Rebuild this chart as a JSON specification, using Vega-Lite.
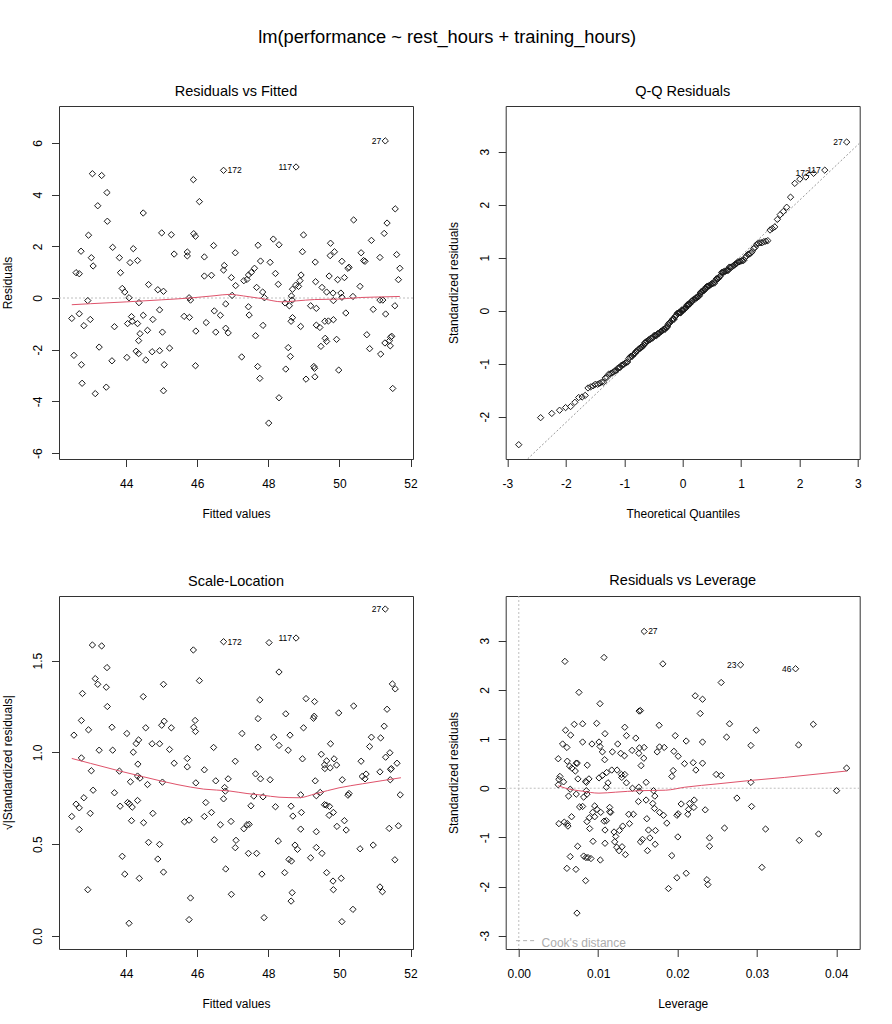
{
  "$schema": "https://vega.github.io/schema/vega-lite/v6.json",
  "background": "white",
  "padding": {"left": 0, "top": 27, "right": 31, "bottom": 18},
  "title": {"text": "lm(performance ~ rest_hours + training_hours)", "fontSize": 18.3, "font": "Liberation Sans", "fontWeight": "normal", "anchor": "middle", "frame": "bounds", "baseline": "alphabetic", "offset": 22, "dx": 16, "color": "#000"},
  "columns": 2,
  "bounds": "flush",
  "spacing": {"row": 137, "column": 92.7},
  "datasets": {
    "rvf": [
      {"fitted":43.05,"resid":4.81},{"fitted":43.31,"resid":4.74},{"fitted":43.46,"resid":4.08},{"fitted":43.20,"resid":3.57},{"fitted":43.47,"resid":2.97},{"fitted":44.48,"resid":3.29},{"fitted":45.89,"resid":4.58},{"fitted":46.06,"resid":3.73},{"fitted":46.74,"resid":4.94,"id":"172"},{"fitted":42.94,"resid":2.43},
      {"fitted":42.73,"resid":1.81},{"fitted":43.02,"resid":1.56},{"fitted":43.07,"resid":1.24},{"fitted":43.62,"resid":1.96},{"fitted":43.81,"resid":1.56},{"fitted":43.84,"resid":0.98},{"fitted":42.59,"resid":0.98},{"fitted":42.68,"resid":0.94},{"fitted":44.11,"resid":1.37},{"fitted":44.20,"resid":1.91},
      {"fitted":44.32,"resid":1.45},{"fitted":45.00,"resid":2.52},{"fitted":45.27,"resid":2.45},{"fitted":45.35,"resid":1.70},{"fitted":45.72,"resid":1.78},{"fitted":45.72,"resid":1.63},{"fitted":45.90,"resid":2.49},{"fitted":45.95,"resid":2.39},{"fitted":46.46,"resid":2.03},{"fitted":46.20,"resid":1.59},
      {"fitted":46.76,"resid":1.26},{"fitted":46.74,"resid":1.08},{"fitted":46.20,"resid":0.85},{"fitted":46.40,"resid":0.88},{"fitted":46.96,"resid":0.79},{"fitted":43.89,"resid":0.37},{"fitted":43.96,"resid":0.23},{"fitted":44.08,"resid":0.01},{"fitted":44.63,"resid":0.52},{"fitted":44.89,"resid":0.32},
      {"fitted":45.05,"resid":0.26},{"fitted":42.92,"resid":-0.10},{"fitted":44.36,"resid":-0.18},{"fitted":45.77,"resid":0.01},{"fitted":45.81,"resid":-0.08},{"fitted":46.98,"resid":0.10},{"fitted":42.47,"resid":-0.79},{"fitted":42.68,"resid":-0.61},{"fitted":42.81,"resid":-1.07},{"fitted":42.99,"resid":-0.83},
      {"fitted":43.67,"resid":-1.11},{"fitted":44.04,"resid":-0.99},{"fitted":44.15,"resid":-0.72},{"fitted":44.17,"resid":-0.90},{"fitted":44.32,"resid":-0.99},{"fitted":44.48,"resid":-0.67},{"fitted":44.39,"resid":-1.38},{"fitted":44.35,"resid":-1.65},{"fitted":44.60,"resid":-1.25},{"fitted":44.75,"resid":-0.83},
      {"fitted":44.94,"resid":-0.46},{"fitted":45.02,"resid":-1.32},{"fitted":45.63,"resid":-0.71},{"fitted":45.78,"resid":-0.75},{"fitted":45.96,"resid":-1.28},{"fitted":46.25,"resid":-0.95},{"fitted":46.48,"resid":-0.50},{"fitted":46.65,"resid":-0.67},{"fitted":46.80,"resid":-0.23},{"fitted":46.52,"resid":-1.32},
      {"fitted":46.80,"resid":-1.17},{"fitted":46.87,"resid":-1.35},{"fitted":43.24,"resid":-1.90},{"fitted":42.53,"resid":-2.22},{"fitted":43.60,"resid":-2.43},{"fitted":44.02,"resid":-2.30},{"fitted":44.28,"resid":-2.06},{"fitted":44.35,"resid":-2.15},{"fitted":44.55,"resid":-2.40},{"fitted":44.73,"resid":-2.08},
      {"fitted":44.94,"resid":-2.04},{"fitted":45.22,"resid":-1.94},{"fitted":45.07,"resid":-2.58},{"fitted":45.95,"resid":-2.62},{"fitted":42.74,"resid":-2.58},{"fitted":42.76,"resid":-3.30},{"fitted":43.13,"resid":-3.70},{"fitted":43.44,"resid":-3.45},{"fitted":45.05,"resid":-3.59},
      {"fitted":51.29,"resid":6.08,"id":"27"},{"fitted":48.78,"resid":5.07,"id":"117"},{"fitted":51.57,"resid":3.45},{"fitted":50.40,"resid":3.02},{"fitted":51.34,"resid":2.90},{"fitted":51.26,"resid":2.50},{"fitted":50.90,"resid":2.23},{"fitted":48.14,"resid":2.28},{"fitted":48.30,"resid":2.06},{"fitted":48.99,"resid":2.44},
      {"fitted":47.71,"resid":2.04},{"fitted":47.07,"resid":1.75},{"fitted":49.75,"resid":2.12},{"fitted":48.96,"resid":1.79},{"fitted":51.61,"resid":1.68},{"fitted":51.14,"resid":1.57},{"fitted":50.61,"resid":1.75},{"fitted":49.74,"resid":1.64},{"fitted":49.86,"resid":1.79},{"fitted":50.07,"resid":1.42},
      {"fitted":50.68,"resid":1.45},{"fitted":50.72,"resid":1.42},{"fitted":47.78,"resid":1.43},{"fitted":48.05,"resid":1.38},{"fitted":49.32,"resid":1.39},{"fitted":50.27,"resid":1.19},{"fitted":50.24,"resid":1.15},{"fitted":51.70,"resid":1.15},{"fitted":47.61,"resid":1.15},{"fitted":47.52,"resid":0.99},
      {"fitted":47.44,"resid":0.89},{"fitted":47.31,"resid":0.67},{"fitted":47.40,"resid":0.72},{"fitted":47.08,"resid":0.48},{"fitted":48.20,"resid":0.95},{"fitted":48.92,"resid":0.89},{"fitted":48.89,"resid":0.67},{"fitted":48.77,"resid":0.50},{"fitted":48.85,"resid":0.45},{"fitted":48.68,"resid":0.34},
      {"fitted":49.33,"resid":0.63},{"fitted":49.71,"resid":0.85},{"fitted":49.95,"resid":0.71},{"fitted":50.14,"resid":0.79},{"fitted":49.51,"resid":0.41},{"fitted":49.64,"resid":0.23},{"fitted":49.82,"resid":0.19},{"fitted":50.04,"resid":0.19},{"fitted":50.58,"resid":0.45},{"fitted":51.66,"resid":0.71},
      {"fitted":47.67,"resid":0.41},{"fitted":47.84,"resid":0.23},{"fitted":48.28,"resid":0.53},{"fitted":47.89,"resid":0.01},{"fitted":50.38,"resid":0.06},{"fitted":50.07,"resid":0.03},{"fitted":48.65,"resid":0.08},{"fitted":48.47,"resid":-0.19},{"fitted":48.59,"resid":-0.30},{"fitted":48.67,"resid":-0.08},
      {"fitted":49.19,"resid":-0.30},{"fitted":49.35,"resid":-0.40},{"fitted":49.83,"resid":-0.10},{"fitted":51.14,"resid":-0.08},{"fitted":51.22,"resid":-0.08},{"fitted":51.56,"resid":-0.30},{"fitted":50.95,"resid":-0.44},{"fitted":51.30,"resid":-0.62},{"fitted":47.44,"resid":-0.34},{"fitted":47.46,"resid":-0.66},
      {"fitted":47.85,"resid":-1.06},{"fitted":47.64,"resid":-1.46},{"fitted":48.68,"resid":-0.76},{"fitted":48.64,"resid":-0.90},{"fitted":48.91,"resid":-1.10},{"fitted":49.35,"resid":-1.05},{"fitted":49.45,"resid":-1.14},{"fitted":49.59,"resid":-0.90},{"fitted":49.69,"resid":-0.89},{"fitted":49.83,"resid":-0.84},
      {"fitted":50.18,"resid":-0.58},{"fitted":49.60,"resid":-1.56},{"fitted":49.64,"resid":-1.68},{"fitted":49.48,"resid":-1.87},{"fitted":49.92,"resid":-1.60},{"fitted":50.77,"resid":-1.42},{"fitted":50.85,"resid":-1.96},{"fitted":51.16,"resid":-2.17},{"fitted":51.28,"resid":-1.74},{"fitted":51.41,"resid":-1.65},
      {"fitted":51.44,"resid":-1.52},{"fitted":51.47,"resid":-1.48},{"fitted":51.43,"resid":-1.85},{"fitted":48.56,"resid":-1.92},{"fitted":48.62,"resid":-2.26},{"fitted":47.70,"resid":-2.65},{"fitted":47.76,"resid":-3.11},{"fitted":48.49,"resid":-2.75},{"fitted":49.06,"resid":-3.14},{"fitted":49.28,"resid":-2.65},
      {"fitted":49.30,"resid":-2.72},{"fitted":49.31,"resid":-3.05},{"fitted":49.98,"resid":-2.79},{"fitted":48.30,"resid":-3.86},{"fitted":51.50,"resid":-3.50},{"fitted":48.01,"resid":-4.84},{"fitted":47.25,"resid":-2.28}
    ],
    "rvf_smooth": [
      {"fitted":42.47,"resid":-0.26},{"fitted":43.0,"resid":-0.22},{"fitted":44.0,"resid":-0.15},{"fitted":45.0,"resid":-0.07},{"fitted":45.8,"resid":0.0},{"fitted":46.5,"resid":0.09},{"fitted":46.9,"resid":0.14},{"fitted":47.3,"resid":0.08},{"fitted":47.8,"resid":-0.02},{"fitted":48.4,"resid":-0.15},{"fitted":48.8,"resid":-0.11},{"fitted":49.3,"resid":-0.06},{"fitted":50.0,"resid":-0.04},{"fitted":50.6,"resid":0.02},{"fitted":51.1,"resid":0.04},{"fitted":51.7,"resid":0.06}
    ],
    "qq": [
      {"theoretical":-2.807,"std_resid":-2.53},{"theoretical":-2.432,"std_resid":-2.02},{"theoretical":-2.241,"std_resid":-1.94},{"theoretical":-2.108,"std_resid":-1.88},{"theoretical":-2.005,"std_resid":-1.83},{"theoretical":-1.919,"std_resid":-1.81},{"theoretical":-1.846,"std_resid":-1.73},{"theoretical":-1.780,"std_resid":-1.64},{"theoretical":-1.722,"std_resid":-1.63},{"theoretical":-1.669,"std_resid":-1.60},
      {"theoretical":-1.621,"std_resid":-1.46},{"theoretical":-1.576,"std_resid":-1.44},{"theoretical":-1.534,"std_resid":-1.42},{"theoretical":-1.495,"std_resid":-1.39},{"theoretical":-1.457,"std_resid":-1.39},{"theoretical":-1.422,"std_resid":-1.37},{"theoretical":-1.388,"std_resid":-1.35},{"theoretical":-1.356,"std_resid":-1.35},{"theoretical":-1.326,"std_resid":-1.27},{"theoretical":-1.296,"std_resid":-1.26},
      {"theoretical":-1.268,"std_resid":-1.20},{"theoretical":-1.240,"std_resid":-1.19},{"theoretical":-1.213,"std_resid":-1.18},{"theoretical":-1.188,"std_resid":-1.16},{"theoretical":-1.163,"std_resid":-1.14},{"theoretical":-1.138,"std_resid":-1.13},{"theoretical":-1.115,"std_resid":-1.09},{"theoretical":-1.092,"std_resid":-1.08},{"theoretical":-1.069,"std_resid":-1.07},{"theoretical":-1.047,"std_resid":-1.03},
      {"theoretical":-1.026,"std_resid":-1.02},{"theoretical":-1.005,"std_resid":-1.01},{"theoretical":-0.984,"std_resid":-0.99},{"theoretical":-0.964,"std_resid":-0.98},{"theoretical":-0.944,"std_resid":-0.97},{"theoretical":-0.925,"std_resid":-0.91},{"theoretical":-0.906,"std_resid":-0.88},{"theoretical":-0.887,"std_resid":-0.86},{"theoretical":-0.868,"std_resid":-0.86},{"theoretical":-0.850,"std_resid":-0.84},
      {"theoretical":-0.833,"std_resid":-0.82},{"theoretical":-0.815,"std_resid":-0.80},{"theoretical":-0.798,"std_resid":-0.77},{"theoretical":-0.781,"std_resid":-0.76},{"theoretical":-0.764,"std_resid":-0.74},{"theoretical":-0.747,"std_resid":-0.72},{"theoretical":-0.731,"std_resid":-0.71},{"theoretical":-0.714,"std_resid":-0.69},{"theoretical":-0.698,"std_resid":-0.69},{"theoretical":-0.682,"std_resid":-0.67},
      {"theoretical":-0.667,"std_resid":-0.65},{"theoretical":-0.651,"std_resid":-0.61},{"theoretical":-0.636,"std_resid":-0.60},{"theoretical":-0.620,"std_resid":-0.58},{"theoretical":-0.605,"std_resid":-0.58},{"theoretical":-0.590,"std_resid":-0.56},{"theoretical":-0.576,"std_resid":-0.55},{"theoretical":-0.561,"std_resid":-0.55},{"theoretical":-0.546,"std_resid":-0.52},{"theoretical":-0.518,"std_resid":-0.52},
      {"theoretical":-0.503,"std_resid":-0.50},{"theoretical":-0.489,"std_resid":-0.47},{"theoretical":-0.475,"std_resid":-0.47},{"theoretical":-0.461,"std_resid":-0.47},{"theoretical":-0.447,"std_resid":-0.47},{"theoretical":-0.433,"std_resid":-0.44},{"theoretical":-0.420,"std_resid":-0.43},{"theoretical":-0.406,"std_resid":-0.43},{"theoretical":-0.392,"std_resid":-0.41},{"theoretical":-0.379,"std_resid":-0.40},
      {"theoretical":-0.366,"std_resid":-0.39},{"theoretical":-0.352,"std_resid":-0.38},{"theoretical":-0.339,"std_resid":-0.37},{"theoretical":-0.326,"std_resid":-0.35},{"theoretical":-0.312,"std_resid":-0.35},{"theoretical":-0.299,"std_resid":-0.35},{"theoretical":-0.286,"std_resid":-0.32},{"theoretical":-0.273,"std_resid":-0.32},{"theoretical":-0.260,"std_resid":-0.30},{"theoretical":-0.248,"std_resid":-0.26},
      {"theoretical":-0.235,"std_resid":-0.24},{"theoretical":-0.222,"std_resid":-0.23},{"theoretical":-0.209,"std_resid":-0.21},{"theoretical":-0.184,"std_resid":-0.18},{"theoretical":-0.171,"std_resid":-0.16},{"theoretical":-0.158,"std_resid":-0.16},{"theoretical":-0.145,"std_resid":-0.16},{"theoretical":-0.133,"std_resid":-0.12},{"theoretical":-0.120,"std_resid":-0.10},{"theoretical":-0.107,"std_resid":-0.09},
      {"theoretical":-0.094,"std_resid":-0.05},{"theoretical":-0.082,"std_resid":-0.05},{"theoretical":-0.069,"std_resid":-0.04},{"theoretical":-0.056,"std_resid":-0.04},{"theoretical":-0.044,"std_resid":-0.04},{"theoretical":-0.031,"std_resid":-0.04},{"theoretical":-0.019,"std_resid":0.01},{"theoretical":-0.006,"std_resid":0.01},{"theoretical":0.006,"std_resid":0.01},{"theoretical":0.019,"std_resid":0.02},
      {"theoretical":0.031,"std_resid":0.03},{"theoretical":0.044,"std_resid":0.04},{"theoretical":0.056,"std_resid":0.05},{"theoretical":0.069,"std_resid":0.10},{"theoretical":0.082,"std_resid":0.10},{"theoretical":0.094,"std_resid":0.12},{"theoretical":0.107,"std_resid":0.12},{"theoretical":0.120,"std_resid":0.12},{"theoretical":0.133,"std_resid":0.14},{"theoretical":0.145,"std_resid":0.17},
      {"theoretical":0.158,"std_resid":0.18},{"theoretical":0.171,"std_resid":0.19},{"theoretical":0.184,"std_resid":0.21},{"theoretical":0.209,"std_resid":0.21},{"theoretical":0.222,"std_resid":0.24},{"theoretical":0.235,"std_resid":0.24},{"theoretical":0.248,"std_resid":0.25},{"theoretical":0.260,"std_resid":0.26},{"theoretical":0.273,"std_resid":0.27},{"theoretical":0.286,"std_resid":0.28},
      {"theoretical":0.299,"std_resid":0.33},{"theoretical":0.312,"std_resid":0.35},{"theoretical":0.326,"std_resid":0.35},{"theoretical":0.339,"std_resid":0.37},{"theoretical":0.352,"std_resid":0.37},{"theoretical":0.366,"std_resid":0.38},{"theoretical":0.379,"std_resid":0.41},{"theoretical":0.392,"std_resid":0.41},{"theoretical":0.406,"std_resid":0.45},{"theoretical":0.420,"std_resid":0.45},
      {"theoretical":0.433,"std_resid":0.46},{"theoretical":0.447,"std_resid":0.47},{"theoretical":0.461,"std_resid":0.47},{"theoretical":0.475,"std_resid":0.49},{"theoretical":0.489,"std_resid":0.50},{"theoretical":0.503,"std_resid":0.51},{"theoretical":0.518,"std_resid":0.51},{"theoretical":0.546,"std_resid":0.52},{"theoretical":0.561,"std_resid":0.57},{"theoretical":0.576,"std_resid":0.60},
      {"theoretical":0.590,"std_resid":0.60},{"theoretical":0.605,"std_resid":0.60},{"theoretical":0.620,"std_resid":0.62},{"theoretical":0.636,"std_resid":0.65},{"theoretical":0.651,"std_resid":0.66},{"theoretical":0.667,"std_resid":0.72},{"theoretical":0.682,"std_resid":0.72},{"theoretical":0.698,"std_resid":0.73},{"theoretical":0.714,"std_resid":0.74},{"theoretical":0.731,"std_resid":0.74},
      {"theoretical":0.747,"std_resid":0.75},{"theoretical":0.764,"std_resid":0.76},{"theoretical":0.781,"std_resid":0.76},{"theoretical":0.798,"std_resid":0.82},{"theoretical":0.815,"std_resid":0.82},{"theoretical":0.833,"std_resid":0.82},{"theoretical":0.850,"std_resid":0.83},{"theoretical":0.868,"std_resid":0.85},{"theoretical":0.887,"std_resid":0.86},{"theoretical":0.906,"std_resid":0.88},
      {"theoretical":0.925,"std_resid":0.89},{"theoretical":0.944,"std_resid":0.92},{"theoretical":0.964,"std_resid":0.92},{"theoretical":0.984,"std_resid":0.93},{"theoretical":1.005,"std_resid":0.94},{"theoretical":1.026,"std_resid":0.94},{"theoretical":1.047,"std_resid":0.95},{"theoretical":1.069,"std_resid":1.00},{"theoretical":1.092,"std_resid":1.03},{"theoretical":1.115,"std_resid":1.06},
      {"theoretical":1.138,"std_resid":1.07},{"theoretical":1.163,"std_resid":1.08},{"theoretical":1.188,"std_resid":1.11},{"theoretical":1.213,"std_resid":1.17},{"theoretical":1.240,"std_resid":1.19},{"theoretical":1.268,"std_resid":1.25},{"theoretical":1.296,"std_resid":1.27},{"theoretical":1.326,"std_resid":1.28},{"theoretical":1.356,"std_resid":1.28},{"theoretical":1.388,"std_resid":1.30},
      {"theoretical":1.422,"std_resid":1.31},{"theoretical":1.457,"std_resid":1.32},{"theoretical":1.495,"std_resid":1.52},{"theoretical":1.534,"std_resid":1.55},{"theoretical":1.576,"std_resid":1.58},{"theoretical":1.621,"std_resid":1.72},{"theoretical":1.669,"std_resid":1.81},{"theoretical":1.722,"std_resid":1.87},{"theoretical":1.780,"std_resid":1.95},{"theoretical":1.846,"std_resid":2.14},
      {"theoretical":1.919,"std_resid":2.40},{"theoretical":2.005,"std_resid":2.48},{"theoretical":2.108,"std_resid":2.52},{"theoretical":2.241,"std_resid":2.59,"id":"172"},{"theoretical":2.432,"std_resid":2.65,"id":"117"},{"theoretical":2.807,"std_resid":3.18,"id":"27"}
    ],
    "qq_line": [
      {"theoretical":-3.2,"std_resid":-3.37},{"theoretical":3.2,"std_resid":3.34}
    ],
    "sl": [
      {"fitted":43.05,"sqrt_std":1.585},{"fitted":43.31,"sqrt_std":1.580},{"fitted":46.74,"sqrt_std":1.603,"id":"172"},{"fitted":45.89,"sqrt_std":1.558},{"fitted":43.46,"sqrt_std":1.462},{"fitted":43.13,"sqrt_std":1.402},{"fitted":43.20,"sqrt_std":1.371},{"fitted":43.44,"sqrt_std":1.355},{"fitted":46.06,"sqrt_std":1.391},{"fitted":45.05,"sqrt_std":1.371},
      {"fitted":42.77,"sqrt_std":1.321},{"fitted":44.48,"sqrt_std":1.304},{"fitted":43.47,"sqrt_std":1.250},{"fitted":42.74,"sqrt_std":1.174},{"fitted":42.94,"sqrt_std":1.123},{"fitted":42.53,"sqrt_std":1.094},{"fitted":43.60,"sqrt_std":1.137},{"fitted":44.02,"sqrt_std":1.103},{"fitted":44.55,"sqrt_std":1.134},{"fitted":45.00,"sqrt_std":1.148},
      {"fitted":45.07,"sqrt_std":1.170},{"fitted":45.27,"sqrt_std":1.134},{"fitted":45.94,"sqrt_std":1.174},{"fitted":45.90,"sqrt_std":1.137},{"fitted":45.95,"sqrt_std":1.114},{"fitted":44.35,"sqrt_std":1.068},{"fitted":44.28,"sqrt_std":1.048},{"fitted":44.73,"sqrt_std":1.047},{"fitted":44.94,"sqrt_std":1.047},{"fitted":45.22,"sqrt_std":1.016},
      {"fitted":43.24,"sqrt_std":1.012},{"fitted":43.62,"sqrt_std":1.012},{"fitted":44.20,"sqrt_std":1.001},{"fitted":46.46,"sqrt_std":1.027},{"fitted":42.74,"sqrt_std":0.970},{"fitted":45.72,"sqrt_std":0.967},{"fitted":45.35,"sqrt_std":0.941},{"fitted":44.33,"sqrt_std":0.936},{"fitted":45.72,"sqrt_std":0.921},{"fitted":46.20,"sqrt_std":0.905},
      {"fitted":43.02,"sqrt_std":0.900},{"fitted":43.81,"sqrt_std":0.898},{"fitted":44.32,"sqrt_std":0.871},{"fitted":44.39,"sqrt_std":0.860},{"fitted":44.12,"sqrt_std":0.840},{"fitted":44.60,"sqrt_std":0.825},{"fitted":45.02,"sqrt_std":0.838},{"fitted":45.96,"sqrt_std":0.834},{"fitted":46.52,"sqrt_std":0.845},{"fitted":46.87,"sqrt_std":0.856},
      {"fitted":43.07,"sqrt_std":0.794},{"fitted":43.67,"sqrt_std":0.780},{"fitted":46.77,"sqrt_std":0.809},{"fitted":46.79,"sqrt_std":0.789},{"fitted":46.74,"sqrt_std":0.747},{"fitted":42.81,"sqrt_std":0.753},{"fitted":42.59,"sqrt_std":0.718},{"fitted":42.68,"sqrt_std":0.698},{"fitted":42.47,"sqrt_std":0.651},{"fitted":42.99,"sqrt_std":0.668},
      {"fitted":43.83,"sqrt_std":0.707},{"fitted":44.04,"sqrt_std":0.727},{"fitted":44.09,"sqrt_std":0.720},{"fitted":44.17,"sqrt_std":0.702},{"fitted":44.32,"sqrt_std":0.738},{"fitted":42.68,"sqrt_std":0.580},{"fitted":44.15,"sqrt_std":0.628},{"fitted":44.49,"sqrt_std":0.617},{"fitted":44.75,"sqrt_std":0.668},{"fitted":46.24,"sqrt_std":0.727},
      {"fitted":46.20,"sqrt_std":0.651},{"fitted":46.40,"sqrt_std":0.673},{"fitted":46.65,"sqrt_std":0.606},{"fitted":45.64,"sqrt_std":0.622},{"fitted":45.77,"sqrt_std":0.631},{"fitted":46.95,"sqrt_std":0.624},{"fitted":46.48,"sqrt_std":0.524},{"fitted":44.63,"sqrt_std":0.510},{"fitted":44.94,"sqrt_std":0.499},{"fitted":43.89,"sqrt_std":0.434},
      {"fitted":44.89,"sqrt_std":0.419},{"fitted":43.96,"sqrt_std":0.337},{"fitted":45.05,"sqrt_std":0.348},{"fitted":44.37,"sqrt_std":0.314},{"fitted":46.80,"sqrt_std":0.365},{"fitted":42.92,"sqrt_std":0.252},{"fitted":46.96,"sqrt_std":0.227},{"fitted":45.81,"sqrt_std":0.207},{"fitted":44.08,"sqrt_std":0.069},{"fitted":45.77,"sqrt_std":0.089},
      {"fitted":51.29,"sqrt_std":1.781,"id":"27"},{"fitted":48.78,"sqrt_std":1.623,"id":"117"},{"fitted":48.02,"sqrt_std":1.598},{"fitted":48.30,"sqrt_std":1.438},{"fitted":51.49,"sqrt_std":1.373},{"fitted":51.57,"sqrt_std":1.346},{"fitted":47.76,"sqrt_std":1.286},{"fitted":49.06,"sqrt_std":1.293},{"fitted":49.30,"sqrt_std":1.277},{"fitted":50.40,"sqrt_std":1.253},
      {"fitted":51.34,"sqrt_std":1.235},{"fitted":48.49,"sqrt_std":1.210},{"fitted":47.71,"sqrt_std":1.184},{"fitted":49.29,"sqrt_std":1.197},{"fitted":49.27,"sqrt_std":1.186},{"fitted":49.98,"sqrt_std":1.215},{"fitted":51.26,"sqrt_std":1.143},{"fitted":48.99,"sqrt_std":1.134},{"fitted":47.26,"sqrt_std":1.103},{"fitted":48.15,"sqrt_std":1.083},
      {"fitted":48.61,"sqrt_std":1.094},{"fitted":50.90,"sqrt_std":1.083},{"fitted":51.16,"sqrt_std":1.079},{"fitted":48.30,"sqrt_std":1.038},{"fitted":48.56,"sqrt_std":1.012},{"fitted":47.71,"sqrt_std":1.028},{"fitted":49.75,"sqrt_std":1.047},{"fitted":50.85,"sqrt_std":1.032},{"fitted":49.49,"sqrt_std":0.990},{"fitted":48.96,"sqrt_std":0.965},
      {"fitted":47.07,"sqrt_std":0.952},{"fitted":49.64,"sqrt_std":0.954},{"fitted":49.85,"sqrt_std":0.965},{"fitted":50.61,"sqrt_std":0.952},{"fitted":51.42,"sqrt_std":0.998},{"fitted":51.30,"sqrt_std":0.974},{"fitted":51.62,"sqrt_std":0.941},{"fitted":49.59,"sqrt_std":0.912},{"fitted":49.74,"sqrt_std":0.916},{"fitted":49.92,"sqrt_std":0.931},
      {"fitted":49.58,"sqrt_std":0.932},{"fitted":51.44,"sqrt_std":0.907},{"fitted":51.46,"sqrt_std":0.912},{"fitted":47.64,"sqrt_std":0.883},{"fitted":47.78,"sqrt_std":0.856},{"fitted":48.05,"sqrt_std":0.851},{"fitted":49.32,"sqrt_std":0.845},{"fitted":50.08,"sqrt_std":0.851},{"fitted":50.64,"sqrt_std":0.869},{"fitted":50.72,"sqrt_std":0.856},
      {"fitted":50.75,"sqrt_std":0.882},{"fitted":51.14,"sqrt_std":0.894},{"fitted":51.43,"sqrt_std":0.851},{"fitted":51.71,"sqrt_std":0.769},{"fitted":47.59,"sqrt_std":0.762},{"fitted":47.85,"sqrt_std":0.758},{"fitted":48.91,"sqrt_std":0.769},{"fitted":49.35,"sqrt_std":0.764},{"fitted":49.46,"sqrt_std":0.782},{"fitted":50.24,"sqrt_std":0.767},
      {"fitted":50.27,"sqrt_std":0.776},{"fitted":47.51,"sqrt_std":0.709},{"fitted":48.20,"sqrt_std":0.704},{"fitted":48.64,"sqrt_std":0.707},{"fitted":48.69,"sqrt_std":0.653},{"fitted":48.93,"sqrt_std":0.673},{"fitted":49.58,"sqrt_std":0.715},{"fitted":49.63,"sqrt_std":0.713},{"fitted":49.72,"sqrt_std":0.706},{"fitted":49.71,"sqrt_std":0.657},
      {"fitted":49.83,"sqrt_std":0.673},{"fitted":47.31,"sqrt_std":0.584},{"fitted":47.40,"sqrt_std":0.606},{"fitted":47.46,"sqrt_std":0.608},{"fitted":48.91,"sqrt_std":0.582},{"fitted":49.35,"sqrt_std":0.568},{"fitted":49.93,"sqrt_std":0.597},{"fitted":50.14,"sqrt_std":0.628},{"fitted":50.19,"sqrt_std":0.577},{"fitted":51.40,"sqrt_std":0.586},
      {"fitted":51.66,"sqrt_std":0.600},{"fitted":47.09,"sqrt_std":0.521},{"fitted":47.07,"sqrt_std":0.481},{"fitted":47.44,"sqrt_std":0.450},{"fitted":47.67,"sqrt_std":0.450},{"fitted":48.28,"sqrt_std":0.517},{"fitted":48.75,"sqrt_std":0.495},{"fitted":48.82,"sqrt_std":0.472},{"fitted":49.19,"sqrt_std":0.426},{"fitted":49.35,"sqrt_std":0.482},
      {"fitted":49.51,"sqrt_std":0.450},{"fitted":48.58,"sqrt_std":0.417},{"fitted":48.65,"sqrt_std":0.408},{"fitted":50.58,"sqrt_std":0.475},{"fitted":50.95,"sqrt_std":0.495},{"fitted":51.56,"sqrt_std":0.415},{"fitted":47.82,"sqrt_std":0.337},{"fitted":48.46,"sqrt_std":0.345},{"fitted":49.64,"sqrt_std":0.345},{"fitted":49.82,"sqrt_std":0.299},
      {"fitted":50.05,"sqrt_std":0.314},{"fitted":49.83,"sqrt_std":0.252},{"fitted":51.14,"sqrt_std":0.267},{"fitted":51.21,"sqrt_std":0.241},{"fitted":48.67,"sqrt_std":0.236},{"fitted":48.64,"sqrt_std":0.190},{"fitted":47.88,"sqrt_std":0.100},{"fitted":50.38,"sqrt_std":0.145},{"fitted":50.07,"sqrt_std":0.078}
    ],
    "sl_smooth": [
      {"fitted":42.47,"sqrt_std":0.967},{"fitted":43.0,"sqrt_std":0.94},{"fitted":43.83,"sqrt_std":0.898},{"fitted":44.49,"sqrt_std":0.867},{"fitted":45.43,"sqrt_std":0.825},{"fitted":46.18,"sqrt_std":0.80},{"fitted":46.9,"sqrt_std":0.79},{"fitted":47.4,"sqrt_std":0.776},{"fitted":47.83,"sqrt_std":0.767},{"fitted":48.3,"sqrt_std":0.756},{"fitted":48.86,"sqrt_std":0.753},{"fitted":49.33,"sqrt_std":0.775},{"fitted":49.99,"sqrt_std":0.807},{"fitted":50.65,"sqrt_std":0.829},{"fitted":51.2,"sqrt_std":0.846},{"fitted":51.73,"sqrt_std":0.862}
    ],
    "rvl": [
      {"leverage":0.01579,"std_resid":3.19,"id":"27"},{"leverage":0.00581,"std_resid":2.58},{"leverage":0.01074,"std_resid":2.66},{"leverage":0.01815,"std_resid":2.53},{"leverage":0.00758,"std_resid":1.95},{"leverage":0.01023,"std_resid":1.72},{"leverage":0.01516,"std_resid":1.57},{"leverage":0.01533,"std_resid":1.58},{"leverage":0.00589,"std_resid":1.18},{"leverage":0.00699,"std_resid":1.30},
      {"leverage":0.00653,"std_resid":1.08},{"leverage":0.00804,"std_resid":1.31},{"leverage":0.00981,"std_resid":1.32},{"leverage":0.01335,"std_resid":1.24},{"leverage":0.01086,"std_resid":1.11},{"leverage":0.01356,"std_resid":1.07},{"leverage":0.01768,"std_resid":1.28},{"leverage":0.01971,"std_resid":1.07},{"leverage":0.00552,"std_resid":0.90},{"leverage":0.00606,"std_resid":0.83},
      {"leverage":0.00804,"std_resid":0.94},{"leverage":0.00922,"std_resid":0.90},{"leverage":0.01011,"std_resid":0.94},{"leverage":0.01023,"std_resid":0.85},{"leverage":0.01246,"std_resid":0.90},{"leverage":0.01474,"std_resid":1.02},{"leverage":0.01427,"std_resid":0.77},{"leverage":0.01520,"std_resid":0.82},{"leverage":0.01579,"std_resid":0.83},{"leverage":0.01512,"std_resid":0.71},
      {"leverage":0.01743,"std_resid":0.74},{"leverage":0.01773,"std_resid":0.84},{"leverage":0.01832,"std_resid":0.83},{"leverage":0.01954,"std_resid":0.75},{"leverage":0.02008,"std_resid":0.65},{"leverage":0.01053,"std_resid":0.74},{"leverage":0.01179,"std_resid":0.74},{"leverage":0.01284,"std_resid":0.71},{"leverage":0.01331,"std_resid":0.66},{"leverage":0.01082,"std_resid":0.58},
      {"leverage":0.01575,"std_resid":0.61},{"leverage":0.01541,"std_resid":0.46},{"leverage":0.00497,"std_resid":0.60},{"leverage":0.00611,"std_resid":0.55},{"leverage":0.00640,"std_resid":0.45},{"leverage":0.00669,"std_resid":0.41},{"leverage":0.00712,"std_resid":0.35},{"leverage":0.00724,"std_resid":0.51},{"leverage":0.00737,"std_resid":0.51},{"leverage":0.00863,"std_resid":0.47},
      {"leverage":0.00745,"std_resid":0.19},{"leverage":0.00842,"std_resid":0.14},{"leverage":0.00851,"std_resid":0.12},{"leverage":0.00884,"std_resid":0.19},{"leverage":0.00518,"std_resid":0.24},{"leverage":0.00505,"std_resid":0.18},{"leverage":0.00497,"std_resid":0.07},{"leverage":0.00564,"std_resid":0.13},{"leverage":0.01011,"std_resid":0.21},{"leverage":0.01053,"std_resid":0.26},
      {"leverage":0.01107,"std_resid":0.32},{"leverage":0.01171,"std_resid":0.37},{"leverage":0.01238,"std_resid":0.37},{"leverage":0.01293,"std_resid":0.28},{"leverage":0.01335,"std_resid":0.28},{"leverage":0.01297,"std_resid":0.22},{"leverage":0.01356,"std_resid":0.11},{"leverage":0.01124,"std_resid":0.11},{"leverage":0.01103,"std_resid":0.02},{"leverage":0.00648,"std_resid":-0.02},
      {"leverage":0.00627,"std_resid":-0.16},{"leverage":0.00724,"std_resid":-0.12},{"leverage":0.00851,"std_resid":-0.05},{"leverage":0.00859,"std_resid":-0.12},{"leverage":0.00817,"std_resid":-0.18},{"leverage":0.01432,"std_resid":0.00},{"leverage":0.01512,"std_resid":0.02},{"leverage":0.01520,"std_resid":-0.06},{"leverage":0.01507,"std_resid":-0.27},{"leverage":0.01604,"std_resid":0.12},
      {"leverage":0.01604,"std_resid":-0.24},{"leverage":0.01697,"std_resid":-0.05},{"leverage":0.01714,"std_resid":-0.16},{"leverage":0.01928,"std_resid":0.24},{"leverage":0.01945,"std_resid":0.36},{"leverage":0.00766,"std_resid":-0.38},{"leverage":0.00804,"std_resid":-0.37},{"leverage":0.00956,"std_resid":-0.36},{"leverage":0.00985,"std_resid":-0.43},{"leverage":0.00931,"std_resid":-0.49},
      {"leverage":0.00956,"std_resid":-0.58},{"leverage":0.00888,"std_resid":-0.60},{"leverage":0.00859,"std_resid":-0.68},{"leverage":0.01032,"std_resid":-0.49},{"leverage":0.01145,"std_resid":-0.39},{"leverage":0.01145,"std_resid":-0.48},{"leverage":0.01158,"std_resid":-0.49},{"leverage":0.01074,"std_resid":-0.67},{"leverage":0.00893,"std_resid":-0.82},{"leverage":0.00665,"std_resid":-0.58},
      {"leverage":0.00505,"std_resid":-0.72},{"leverage":0.00573,"std_resid":-0.69},{"leverage":0.00611,"std_resid":-0.72},{"leverage":0.00619,"std_resid":-0.77},{"leverage":0.01688,"std_resid":-0.31},{"leverage":0.01709,"std_resid":-0.41},{"leverage":0.01773,"std_resid":-0.49},{"leverage":0.01823,"std_resid":-0.55},{"leverage":0.01613,"std_resid":-0.62},{"leverage":0.01385,"std_resid":-0.53},
      {"leverage":0.01444,"std_resid":-0.53},{"leverage":0.01394,"std_resid":-0.72},{"leverage":0.01200,"std_resid":-0.89},{"leverage":0.01221,"std_resid":-0.98},{"leverage":0.01267,"std_resid":-0.86},{"leverage":0.01309,"std_resid":-0.77},{"leverage":0.01086,"std_resid":-0.85},{"leverage":0.01103,"std_resid":-0.66},{"leverage":0.01634,"std_resid":-0.85},{"leverage":0.01722,"std_resid":-0.86},
      {"leverage":0.01865,"std_resid":-0.71},{"leverage":0.01992,"std_resid":-0.55},{"leverage":0.02008,"std_resid":-0.52},{"leverage":0.02046,"std_resid":-0.32},{"leverage":0.00935,"std_resid":-1.08},{"leverage":0.01086,"std_resid":-1.12},{"leverage":0.01208,"std_resid":-1.09},{"leverage":0.01234,"std_resid":-1.20},{"leverage":0.01263,"std_resid":-1.27},{"leverage":0.01301,"std_resid":-1.19},
      {"leverage":0.01343,"std_resid":-1.35},{"leverage":0.01533,"std_resid":-1.09},{"leverage":0.01558,"std_resid":-1.04},{"leverage":0.01651,"std_resid":-1.01},{"leverage":0.01718,"std_resid":-1.14},{"leverage":0.01621,"std_resid":-1.27},{"leverage":0.02004,"std_resid":-0.99},{"leverage":0.00741,"std_resid":-1.18},{"leverage":0.00648,"std_resid":-1.39},{"leverage":0.00817,"std_resid":-1.38},
      {"leverage":0.00846,"std_resid":-1.41},{"leverage":0.00872,"std_resid":-1.41},{"leverage":0.00909,"std_resid":-1.43},{"leverage":0.01027,"std_resid":-1.46},{"leverage":0.01928,"std_resid":-1.37},{"leverage":0.00606,"std_resid":-1.63},{"leverage":0.00720,"std_resid":-1.65},{"leverage":0.00842,"std_resid":-1.88},{"leverage":0.01992,"std_resid":-1.82},{"leverage":0.01886,"std_resid":-2.04},
      {"leverage":0.00733,"std_resid":-2.54},
      {"leverage":0.02794,"std_resid":2.51,"id":"23"},{"leverage":0.03487,"std_resid":2.43,"id":"46"},{"leverage":0.02550,"std_resid":2.15},{"leverage":0.02223,"std_resid":1.88},{"leverage":0.02315,"std_resid":1.81},{"leverage":0.02286,"std_resid":1.52},{"leverage":0.02655,"std_resid":1.31},{"leverage":0.03710,"std_resid":1.30},{"leverage":0.02992,"std_resid":1.18},{"leverage":0.02618,"std_resid":1.04},
      {"leverage":0.02109,"std_resid":0.96},{"leverage":0.02315,"std_resid":0.94},{"leverage":0.02924,"std_resid":0.87},{"leverage":0.03525,"std_resid":0.88},{"leverage":0.02088,"std_resid":0.50},{"leverage":0.02197,"std_resid":0.52},{"leverage":0.02315,"std_resid":0.51},{"leverage":0.02231,"std_resid":0.37},{"leverage":0.02487,"std_resid":0.28},{"leverage":0.02550,"std_resid":0.26},
      {"leverage":0.02924,"std_resid":0.12},{"leverage":0.04130,"std_resid":0.41},{"leverage":0.04004,"std_resid":-0.05},{"leverage":0.02748,"std_resid":-0.20},{"leverage":0.02933,"std_resid":-0.37},{"leverage":0.02210,"std_resid":-0.24},{"leverage":0.02151,"std_resid":-0.31},{"leverage":0.02206,"std_resid":-0.39},{"leverage":0.02139,"std_resid":-0.43},{"leverage":0.02130,"std_resid":-0.53},
      {"leverage":0.02349,"std_resid":-0.44},{"leverage":0.02592,"std_resid":-0.81},{"leverage":0.03109,"std_resid":-0.83},{"leverage":0.02403,"std_resid":-1.01},{"leverage":0.02403,"std_resid":-1.18},{"leverage":0.03534,"std_resid":-1.06},{"leverage":0.03777,"std_resid":-0.93},{"leverage":0.03063,"std_resid":-1.61},{"leverage":0.02109,"std_resid":-1.73},{"leverage":0.02370,"std_resid":-1.86},
      {"leverage":0.02382,"std_resid":-1.96}
    ],
    "rvl_smooth": [
      {"leverage":0.00497,"std_resid":0.05},{"leverage":0.0059,"std_resid":0.0},{"leverage":0.0080,"std_resid":-0.06},{"leverage":0.0101,"std_resid":-0.10},{"leverage":0.0122,"std_resid":-0.08},{"leverage":0.0152,"std_resid":-0.05},{"leverage":0.0185,"std_resid":-0.04},{"leverage":0.0209,"std_resid":0.02},{"leverage":0.0251,"std_resid":0.09},{"leverage":0.0293,"std_resid":0.16},{"leverage":0.0335,"std_resid":0.22},{"leverage":0.0377,"std_resid":0.29},{"leverage":0.0413,"std_resid":0.35}
    ],
    "cook_key": [
      {"leverage":-0.00034,"leverage_end":0.00218,"std_resid":-3.10,"label":"Cook's distance","label_at":0.00287,"label_y":-3.22}
    ]
  },
  "concat": [
    {
      "width": 354, "height": 353,
      "title": {"text": "Residuals vs Fitted"},
      "layer": [
        {"data": {"values": [{}]}, "mark": {"type": "rule", "color": "#BEBEBE", "strokeDash": [2, 2], "strokeWidth": 1},
         "encoding": {"y": {"datum": 0, "type": "quantitative", "title": "Residuals"}}},
        {"data": {"name": "rvf"},
         "mark": {"type": "point", "shape": "diamond", "filled": false, "color": "#1a1a1a", "size": 40, "strokeWidth": 1, "opacity": 1},
         "encoding": {
           "x": {"field": "fitted", "type": "quantitative", "title": "Fitted values", "scale": {"domain": [42.11, 52.07], "nice": false, "zero": false}, "axis": {"values": [44, 46, 48, 50, 52]}},
           "y": {"field": "resid", "type": "quantitative", "title": "Residuals", "scale": {"domain": [-6.23, 7.43], "nice": false, "zero": false}, "axis": {"values": [-6, -4, -2, 0, 2, 4, 6], "format": "d", "labelExpr": "replace(datum.label, '−', '-')"}}}},
        {"data": {"name": "rvf_smooth"},
         "mark": {"type": "line", "color": "#DF536B", "strokeWidth": 1, "interpolate": "monotone"},
         "encoding": {"x": {"field": "fitted", "type": "quantitative", "title": "Fitted values"}, "y": {"field": "resid", "type": "quantitative", "title": "Residuals"}}},
        {"data": {"name": "rvf"}, "transform": [{"filter": "isValid(datum.id) && datum.fitted < 47.1"}],
         "mark": {"type": "text", "align": "left", "baseline": "middle", "dx": 4, "fontSize": 8.5, "color": "#000"},
         "encoding": {"x": {"field": "fitted", "type": "quantitative", "title": "Fitted values"}, "y": {"field": "resid", "type": "quantitative", "title": "Residuals"}, "text": {"field": "id"}}},
        {"data": {"name": "rvf"}, "transform": [{"filter": "isValid(datum.id) && datum.fitted >= 47.1"}],
         "mark": {"type": "text", "align": "right", "baseline": "middle", "dx": -4, "fontSize": 8.5, "color": "#000"},
         "encoding": {"x": {"field": "fitted", "type": "quantitative", "title": "Fitted values"}, "y": {"field": "resid", "type": "quantitative", "title": "Residuals"}, "text": {"field": "id"}}}
      ]
    },
    {
      "width": 354, "height": 353,
      "title": {"text": "Q-Q Residuals"},
      "layer": [
        {"data": {"name": "qq_line"},
         "mark": {"type": "line", "color": "#9A9A9A", "strokeDash": [2, 2], "strokeWidth": 1, "clip": true},
         "encoding": {"x": {"field": "theoretical", "type": "quantitative", "title": "Theoretical Quantiles"}, "y": {"field": "std_resid", "type": "quantitative", "title": "Standardized residuals"}}},
        {"data": {"name": "qq"},
         "mark": {"type": "point", "shape": "diamond", "filled": false, "color": "#1a1a1a", "size": 40, "strokeWidth": 1, "opacity": 1},
         "encoding": {
           "x": {"field": "theoretical", "type": "quantitative", "title": "Theoretical Quantiles", "scale": {"domain": [-3.03, 3.03], "nice": false, "zero": false}, "axis": {"values": [-3, -2, -1, 0, 1, 2, 3], "format": "d", "labelExpr": "replace(datum.label, '−', '-')"}},
           "y": {"field": "std_resid", "type": "quantitative", "title": "Standardized residuals", "scale": {"domain": [-2.80, 3.86], "nice": false, "zero": false}, "axis": {"values": [-2, -1, 0, 1, 2, 3], "format": "d", "labelExpr": "replace(datum.label, '−', '-')"}}}},
        {"data": {"name": "qq"}, "transform": [{"filter": "isValid(datum.id)"}],
         "mark": {"type": "text", "align": "right", "baseline": "middle", "dx": -4, "fontSize": 8.5, "color": "#000"},
         "encoding": {"x": {"field": "theoretical", "type": "quantitative", "title": "Theoretical Quantiles"}, "y": {"field": "std_resid", "type": "quantitative", "title": "Standardized residuals"}, "text": {"field": "id"}}}
      ]
    },
    {
      "width": 354, "height": 353,
      "title": {"text": "Scale-Location"},
      "layer": [
        {"data": {"name": "sl"},
         "mark": {"type": "point", "shape": "diamond", "filled": false, "color": "#1a1a1a", "size": 40, "strokeWidth": 1, "opacity": 1},
         "encoding": {
           "x": {"field": "fitted", "type": "quantitative", "title": "Fitted values", "scale": {"domain": [42.11, 52.07], "nice": false, "zero": false}, "axis": {"values": [44, 46, 48, 50, 52]}},
           "y": {"field": "sqrt_std", "type": "quantitative", "title": "√|Standardized residuals|", "scale": {"domain": [-0.071, 1.852], "nice": false, "zero": false}, "axis": {"values": [0, 0.5, 1, 1.5], "format": ".1f", "titleY": 166}}}},
        {"data": {"name": "sl_smooth"},
         "mark": {"type": "line", "color": "#DF536B", "strokeWidth": 1, "interpolate": "monotone"},
         "encoding": {"x": {"field": "fitted", "type": "quantitative", "title": "Fitted values"}, "y": {"field": "sqrt_std", "type": "quantitative", "title": "√|Standardized residuals|"}}},
        {"data": {"name": "sl"}, "transform": [{"filter": "isValid(datum.id) && datum.fitted < 47.1"}],
         "mark": {"type": "text", "align": "left", "baseline": "middle", "dx": 4, "fontSize": 8.5, "color": "#000"},
         "encoding": {"x": {"field": "fitted", "type": "quantitative", "title": "Fitted values"}, "y": {"field": "sqrt_std", "type": "quantitative", "title": "√|Standardized residuals|"}, "text": {"field": "id"}}},
        {"data": {"name": "sl"}, "transform": [{"filter": "isValid(datum.id) && datum.fitted >= 47.1"}],
         "mark": {"type": "text", "align": "right", "baseline": "middle", "dx": -4, "fontSize": 8.5, "color": "#000"},
         "encoding": {"x": {"field": "fitted", "type": "quantitative", "title": "Fitted values"}, "y": {"field": "sqrt_std", "type": "quantitative", "title": "√|Standardized residuals|"}, "text": {"field": "id"}}}
      ]
    },
    {
      "width": 354, "height": 353,
      "title": {"text": "Residuals vs Leverage"},
      "layer": [
        {"data": {"values": [{}]}, "mark": {"type": "rule", "color": "#BEBEBE", "strokeDash": [2, 2], "strokeWidth": 1},
         "encoding": {"y": {"datum": 0, "type": "quantitative", "title": "Standardized residuals"}}},
        {"data": {"values": [{}]}, "mark": {"type": "rule", "color": "#BEBEBE", "strokeDash": [2, 2], "strokeWidth": 1},
         "encoding": {"x": {"datum": 0, "type": "quantitative", "title": "Leverage"}}},
        {"data": {"name": "rvl"},
         "mark": {"type": "point", "shape": "diamond", "filled": false, "color": "#1a1a1a", "size": 40, "strokeWidth": 1, "opacity": 1},
         "encoding": {
           "x": {"field": "leverage", "type": "quantitative", "title": "Leverage", "scale": {"domain": [-0.00165, 0.04295], "nice": false, "zero": false}, "axis": {"values": [0, 0.01, 0.02, 0.03, 0.04], "format": ".2f"}},
           "y": {"field": "std_resid", "type": "quantitative", "title": "Standardized residuals", "scale": {"domain": [-3.27, 3.91], "nice": false, "zero": false}, "axis": {"values": [-3, -2, -1, 0, 1, 2, 3], "format": "d", "labelExpr": "replace(datum.label, '−', '-')"}}}},
        {"data": {"name": "rvl_smooth"},
         "mark": {"type": "line", "color": "#DF536B", "strokeWidth": 1, "interpolate": "monotone"},
         "encoding": {"x": {"field": "leverage", "type": "quantitative", "title": "Leverage"}, "y": {"field": "std_resid", "type": "quantitative", "title": "Standardized residuals"}}},
        {"data": {"name": "rvl"}, "transform": [{"filter": "isValid(datum.id) && datum.leverage < 0.0207"}],
         "mark": {"type": "text", "align": "left", "baseline": "middle", "dx": 4, "fontSize": 8.5, "color": "#000"},
         "encoding": {"x": {"field": "leverage", "type": "quantitative", "title": "Leverage"}, "y": {"field": "std_resid", "type": "quantitative", "title": "Standardized residuals"}, "text": {"field": "id"}}},
        {"data": {"name": "rvl"}, "transform": [{"filter": "isValid(datum.id) && datum.leverage >= 0.0207"}],
         "mark": {"type": "text", "align": "right", "baseline": "middle", "dx": -4, "fontSize": 8.5, "color": "#000"},
         "encoding": {"x": {"field": "leverage", "type": "quantitative", "title": "Leverage"}, "y": {"field": "std_resid", "type": "quantitative", "title": "Standardized residuals"}, "text": {"field": "id"}}},
        {"data": {"name": "cook_key"},
         "mark": {"type": "rule", "color": "#B0B0B0", "strokeDash": [4, 3], "strokeWidth": 1},
         "encoding": {"x": {"field": "leverage", "type": "quantitative", "title": "Leverage"}, "x2": {"field": "leverage_end"}, "y": {"field": "std_resid", "type": "quantitative", "title": "Standardized residuals"}}},
        {"data": {"name": "cook_key"},
         "mark": {"type": "text", "align": "left", "baseline": "alphabetic", "fontSize": 12, "color": "#ADADAD"},
         "encoding": {"x": {"field": "label_at", "type": "quantitative", "title": "Leverage"}, "y": {"field": "label_y", "type": "quantitative", "title": "Standardized residuals"}, "text": {"field": "label"}}}
      ]
    }
  ],
  "config": {
    "font": "Liberation Sans",
    "view": {"stroke": "#333333", "strokeWidth": 1},
    "axis": {"domain": false, "grid": false, "ticks": true, "tickColor": "#333333", "tickSize": 7.5, "tickWidth": 1, "labelFont": "Liberation Sans", "labelFontSize": 12, "labelColor": "#000", "titleFont": "Liberation Sans", "titleFontSize": 12, "titleFontWeight": "normal", "titleColor": "#000", "labelFlush": false, "labelOverlap": false},
    "axisX": {"labelPadding": 20.8, "labelBaseline": "alphabetic", "titleY": 58, "titleBaseline": "alphabetic"},
    "axisY": {"labelAngle": 270, "labelAlign": "center", "labelBaseline": "alphabetic", "labelPadding": 10.2, "titleX": -48, "titleBaseline": "alphabetic", "titleAngle": 270},
    "title": {"font": "Liberation Sans", "fontSize": 14.5, "fontWeight": "normal", "color": "#000", "baseline": "alphabetic", "offset": 7, "frame": "group"}
  }
}
